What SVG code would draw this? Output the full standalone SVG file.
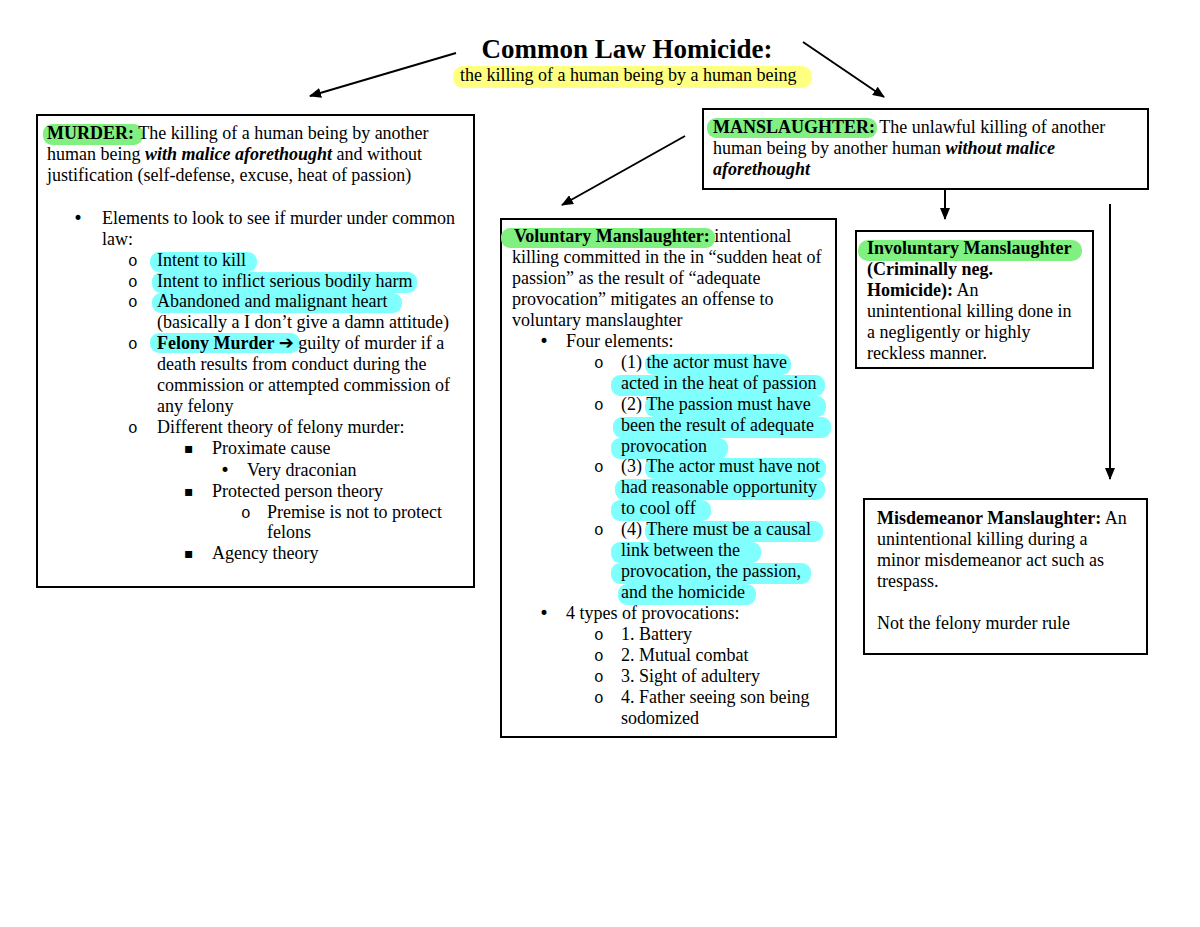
<svg xmlns="http://www.w3.org/2000/svg" width="1200" height="927" viewBox="0 0 1200 927">
<style>
.t{font-family:"Liberation Serif","Times New Roman",serif;font-size:18px;fill:#000}
.title{font-family:"Liberation Serif","Times New Roman",serif;font-size:27px;font-weight:bold;fill:#000}
.b{font-weight:bold}
.bi{font-weight:bold;font-style:italic}
.bu{font-family:"DejaVu Sans",sans-serif;font-size:17px;fill:#000}
.o{font-family:"Liberation Mono","Courier New",monospace;font-size:16px;fill:#000}
.sq{font-family:"DejaVu Sans",sans-serif;font-size:14px;fill:#000}
.ar{font-family:"DejaVu Sans",sans-serif;font-weight:bold}
.g{fill:#80f080}
.c{fill:#80ffff}
.y{fill:#ffff80}
.box{fill:#fff;stroke:#000;stroke-width:2}
.ln{fill:none;stroke:#000;stroke-width:2;marker-end:url(#ah)}
</style>
<defs>
<marker id="ah" markerWidth="12" markerHeight="10" refX="11" refY="5" orient="auto" markerUnits="userSpaceOnUse">
<path d="M0,0 L12,5 L0,10 Z" fill="#000"/>
</marker>
</defs>
<rect width="1200" height="927" fill="#fff"/>

<g id="connectors">
<line class="ln" x1="456" y1="53" x2="310" y2="96"/>
<line class="ln" x1="803" y1="42" x2="884" y2="97"/>
<line class="ln" x1="685" y1="136" x2="562" y2="205"/>
<line class="ln" x1="945" y1="190" x2="945" y2="219"/>
<line class="ln" x1="1110" y1="204" x2="1110" y2="479"/>
</g>

<g id="title">
<text class="title" x="627" y="58" text-anchor="middle">Common Law Homicide:</text>
<rect class="y" x="453" y="66" width="359" height="22" rx="10"/>
<text class="t" x="460" y="81">the killing of a human being by a human being</text>
</g>

<g id="murder">
<rect class="box" x="37" y="115" width="437" height="472"/>
<rect class="g" x="43" y="124" width="100" height="21" rx="9"/>
<rect class="c" x="150" y="252" width="107" height="20" rx="9"/>
<rect class="c" x="152" y="272" width="265" height="21" rx="9"/>
<rect class="c" x="152" y="293" width="250" height="20" rx="9"/>
<rect class="c" x="150" y="333" width="150" height="20" rx="9"/>
<text class="t" x="47" y="139"><tspan class="b">MURDER:</tspan> The killing of a human being by another</text>
<text class="t" x="47" y="160">human being <tspan class="bi">with malice aforethought</tspan> and without</text>
<text class="t" x="47" y="181">justification (self-defense, excuse, heat of passion)</text>
<text class="bu" x="73" y="224">•</text>
<text class="t" x="102" y="224">Elements to look to see if murder under common</text>
<text class="t" x="102" y="245">law:</text>
<text class="o" x="128" y="266">o</text>
<text class="t" x="157" y="266">Intent to kill</text>
<text class="o" x="128" y="287">o</text>
<text class="t" x="157" y="287">Intent to inflict serious bodily harm</text>
<text class="o" x="128" y="307">o</text>
<text class="t" x="157" y="307">Abandoned and malignant heart</text>
<text class="t" x="157" y="328">(basically a I don’t give a damn attitude)</text>
<text class="o" x="128" y="349">o</text>
<text class="t" x="157" y="349"><tspan class="b">Felony Murder </tspan><tspan class="ar">➔</tspan> guilty of murder if a</text>
<text class="t" x="157" y="370">death results from conduct during the</text>
<text class="t" x="157" y="391">commission or attempted commission of</text>
<text class="t" x="157" y="412">any felony</text>
<text class="o" x="128" y="433">o</text>
<text class="t" x="157" y="433">Different theory of felony murder:</text>
<text class="sq" x="184" y="453">▪</text>
<text class="t" x="212" y="454">Proximate cause</text>
<text class="bu" x="220" y="476">•</text>
<text class="t" x="247" y="476">Very draconian</text>
<text class="sq" x="184" y="496">▪</text>
<text class="t" x="212" y="497">Protected person theory</text>
<text class="o" x="241" y="518">o</text>
<text class="t" x="267" y="518">Premise is not to protect</text>
<text class="t" x="267" y="538">felons</text>
<text class="sq" x="184" y="558">▪</text>
<text class="t" x="212" y="559">Agency theory</text>
</g>

<g id="manslaughter">
<rect class="box" x="703" y="109" width="445" height="80"/>
<rect class="g" x="707" y="118" width="170" height="20" rx="9"/>
<text class="t" x="713" y="133"><tspan class="b">MANSLAUGHTER:</tspan> The unlawful killing of another</text>
<text class="t" x="713" y="154">human being by another human <tspan class="bi">without malice</tspan></text>
<text class="t" x="713" y="175"><tspan class="bi">aforethought</tspan></text>
</g>

<g id="voluntary">
<rect class="box" x="501" y="219" width="335" height="518"/>
<rect class="g" x="501" y="228" width="214" height="20" rx="9"/>
<rect class="c" x="645" y="354" width="146" height="21" rx="9"/>
<rect class="c" x="611" y="375" width="214" height="21" rx="9"/>
<rect class="c" x="645" y="396" width="181" height="21" rx="9"/>
<rect class="c" x="613" y="417" width="218" height="21" rx="9"/>
<rect class="c" x="611" y="438" width="117" height="21" rx="9"/>
<rect class="c" x="645" y="458" width="181" height="21" rx="9"/>
<rect class="c" x="615" y="479" width="210" height="21" rx="9"/>
<rect class="c" x="611" y="500" width="100" height="21" rx="9"/>
<rect class="c" x="645" y="521" width="178" height="21" rx="9"/>
<rect class="c" x="611" y="542" width="150" height="21" rx="9"/>
<rect class="c" x="611" y="563" width="200" height="21" rx="9"/>
<rect class="c" x="618" y="584" width="138" height="21" rx="9"/>
<text class="t" x="514" y="242"><tspan class="b">Voluntary Manslaughter:</tspan> intentional</text>
<text class="t" x="512" y="263">killing committed in the in “sudden heat of</text>
<text class="t" x="512" y="284">passion” as the result of “adequate</text>
<text class="t" x="512" y="305">provocation” mitigates an offense to</text>
<text class="t" x="512" y="326">voluntary manslaughter</text>
<text class="bu" x="539" y="347">•</text>
<text class="t" x="566" y="347">Four elements:</text>
<text class="o" x="594" y="368">o</text>
<text class="t" x="621" y="368">(1) the actor must have</text>
<text class="t" x="621" y="389">acted in the heat of passion</text>
<text class="o" x="594" y="410">o</text>
<text class="t" x="621" y="410">(2) The passion must have</text>
<text class="t" x="621" y="431">been the result of adequate</text>
<text class="t" x="621" y="452">provocation</text>
<text class="o" x="594" y="472">o</text>
<text class="t" x="621" y="472">(3) The actor must have not</text>
<text class="t" x="621" y="493">had reasonable opportunity</text>
<text class="t" x="621" y="514">to cool off</text>
<text class="o" x="594" y="535">o</text>
<text class="t" x="621" y="535">(4) There must be a causal</text>
<text class="t" x="621" y="556">link between the</text>
<text class="t" x="621" y="577">provocation, the passion,</text>
<text class="t" x="621" y="598">and the homicide</text>
<text class="bu" x="539" y="619">•</text>
<text class="t" x="566" y="619">4 types of provocations:</text>
<text class="o" x="594" y="640">o</text>
<text class="t" x="621" y="640">1. Battery</text>
<text class="o" x="594" y="661">o</text>
<text class="t" x="621" y="661">2. Mutual combat</text>
<text class="o" x="594" y="682">o</text>
<text class="t" x="621" y="682">3. Sight of adultery</text>
<text class="o" x="594" y="703">o</text>
<text class="t" x="621" y="703">4. Father seeing son being</text>
<text class="t" x="621" y="724">sodomized</text>
</g>

<g id="involuntary">
<rect class="box" x="856" y="231" width="237" height="137"/>
<rect class="g" x="858" y="240" width="224" height="21" rx="10"/>
<text class="t" x="867" y="254"><tspan class="b">Involuntary Manslaughter</tspan></text>
<text class="t" x="867" y="275"><tspan class="b">(Criminally neg.</tspan></text>
<text class="t" x="867" y="296"><tspan class="b">Homicide):</tspan> An</text>
<text class="t" x="867" y="317">unintentional killing done in</text>
<text class="t" x="867" y="338">a negligently or highly</text>
<text class="t" x="867" y="359">reckless manner.</text>
</g>

<g id="misdemeanor">
<rect class="box" x="864" y="499" width="283" height="155"/>
<text class="t" x="877" y="524"><tspan class="b">Misdemeanor Manslaughter:</tspan> An</text>
<text class="t" x="877" y="545">unintentional killing during a</text>
<text class="t" x="877" y="566">minor misdemeanor act such as</text>
<text class="t" x="877" y="587">trespass.</text>
<text class="t" x="877" y="629">Not the felony murder rule</text>
</g>
</svg>
